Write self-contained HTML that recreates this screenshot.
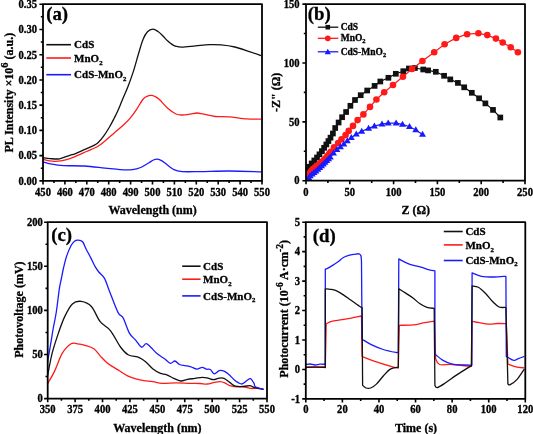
<!DOCTYPE html><html><head><meta charset="utf-8"><style>html,body{margin:0;padding:0;background:#fff;overflow:hidden}svg{display:block;will-change:transform}text{stroke:#000;stroke-width:0.3px}</style></head><body>
<svg width="533" height="434" viewBox="0 0 533 434" font-family="Liberation Serif" font-weight="bold">
<rect width="533" height="434" fill="#fff"/>
<path d="M43.00,161.90 C44.50,162.28 48.57,163.58 52.00,164.20 C55.43,164.82 58.22,165.30 63.60,165.60 C68.98,165.90 77.40,165.58 84.30,166.00 C91.20,166.42 99.05,167.50 105.00,168.10 C110.95,168.70 115.43,169.35 120.00,169.60 C124.57,169.85 128.95,169.95 132.40,169.60 C135.85,169.25 137.93,168.65 140.70,167.50 C143.47,166.35 146.87,163.95 149.00,162.70 C151.13,161.45 152.12,160.58 153.50,160.00 C154.88,159.42 156.13,159.17 157.30,159.20 C158.47,159.23 159.28,159.62 160.50,160.20 C161.72,160.78 162.37,161.13 164.60,162.70 C166.83,164.27 170.97,168.12 173.90,169.60 C176.83,171.08 177.85,171.27 182.20,171.60 C186.55,171.93 192.17,171.70 200.00,171.60 C207.83,171.50 219.03,170.97 229.20,171.00 C239.37,171.03 255.70,171.67 261.00,171.80" fill="none" stroke="#1a1aff" stroke-width="1.30" stroke-linejoin="round"/>
<path d="M43.00,159.40 C44.00,159.63 46.93,160.48 49.00,160.80 C51.07,161.12 52.62,161.45 55.40,161.30 C58.18,161.15 62.43,160.68 65.70,159.90 C68.97,159.12 71.53,158.00 75.00,156.60 C78.47,155.20 82.67,153.22 86.50,151.50 C90.33,149.78 94.93,148.03 98.00,146.30 C101.07,144.57 102.20,143.32 104.90,141.10 C107.60,138.88 111.12,135.68 114.20,133.00 C117.28,130.32 120.77,127.45 123.40,125.00 C126.03,122.55 127.80,120.92 130.00,118.30 C132.20,115.68 134.47,112.43 136.60,109.30 C138.73,106.17 141.07,101.67 142.80,99.50 C144.53,97.33 145.62,96.98 147.00,96.30 C148.38,95.62 149.77,95.37 151.10,95.40 C152.43,95.43 153.62,95.82 155.00,96.50 C156.38,97.18 157.28,97.55 159.40,99.50 C161.52,101.45 164.93,105.78 167.70,108.20 C170.47,110.62 173.58,112.87 176.00,114.00 C178.42,115.13 179.87,114.97 182.20,115.00 C184.53,115.03 187.55,114.53 190.00,114.20 C192.45,113.87 194.62,113.00 196.90,113.00 C199.18,113.00 200.60,113.62 203.70,114.20 C206.80,114.78 211.25,116.05 215.50,116.50 C219.75,116.95 223.98,116.50 229.20,116.90 C234.42,117.30 241.50,118.53 246.80,118.90 C252.10,119.27 258.63,119.07 261.00,119.10" fill="none" stroke="#ff1a1a" stroke-width="1.30" stroke-linejoin="round"/>
<path d="M43.00,157.80 C44.17,157.93 47.25,158.43 50.00,158.60 C52.75,158.77 56.20,159.35 59.50,158.80 C62.80,158.25 67.22,156.13 69.80,155.30 C72.38,154.47 72.60,154.73 75.00,153.80 C77.40,152.87 81.13,151.05 84.20,149.70 C87.27,148.35 91.10,146.85 93.40,145.70 C95.70,144.55 96.27,144.43 98.00,142.80 C99.73,141.17 101.88,138.53 103.80,135.90 C105.72,133.27 107.77,129.95 109.50,127.00 C111.23,124.05 112.85,120.82 114.20,118.20 C115.55,115.58 116.25,114.33 117.60,111.30 C118.95,108.27 120.57,104.15 122.30,100.00 C124.03,95.85 126.17,91.13 128.00,86.40 C129.83,81.67 131.58,76.92 133.30,71.60 C135.02,66.28 136.68,59.85 138.30,54.50 C139.92,49.15 141.47,43.28 143.00,39.50 C144.53,35.72 145.87,33.52 147.50,31.80 C149.13,30.08 151.05,29.25 152.80,29.20 C154.55,29.15 156.30,30.37 158.00,31.50 C159.70,32.63 161.42,34.45 163.00,36.00 C164.58,37.55 166.00,39.40 167.50,40.80 C169.00,42.20 170.58,43.48 172.00,44.40 C173.42,45.32 174.35,45.85 176.00,46.30 C177.65,46.75 178.62,47.17 181.90,47.10 C185.18,47.03 191.12,46.30 195.70,45.90 C200.28,45.50 205.17,44.87 209.40,44.70 C213.63,44.53 216.87,44.52 221.10,44.90 C225.33,45.28 230.23,45.93 234.80,47.00 C239.37,48.07 244.13,49.87 248.50,51.30 C252.87,52.73 258.92,54.88 261.00,55.60" fill="none" stroke="#111" stroke-width="1.30" stroke-linejoin="round"/>
<rect x="43.00" y="4.20" width="219.00" height="176.70" fill="none" stroke="#000" stroke-width="1.80" stroke-linejoin="round"/>
<path d="M43.00,180.90 V184.50 M53.95,180.90 V183.10 M64.90,180.90 V184.50 M75.85,180.90 V183.10 M86.80,180.90 V184.50 M97.75,180.90 V183.10 M108.70,180.90 V184.50 M119.65,180.90 V183.10 M130.60,180.90 V184.50 M141.55,180.90 V183.10 M152.50,180.90 V184.50 M163.45,180.90 V183.10 M174.40,180.90 V184.50 M185.35,180.90 V183.10 M196.30,180.90 V184.50 M207.25,180.90 V183.10 M218.20,180.90 V184.50 M229.15,180.90 V183.10 M240.10,180.90 V184.50 M251.05,180.90 V183.10 M262.00,180.90 V184.50 " stroke="#000" stroke-width="1.6"/>
<path d="M43.00,180.90 H39.40 M43.00,168.28 H40.80 M43.00,155.66 H39.40 M43.00,143.04 H40.80 M43.00,130.41 H39.40 M43.00,117.79 H40.80 M43.00,105.17 H39.40 M43.00,92.55 H40.80 M43.00,79.93 H39.40 M43.00,67.31 H40.80 M43.00,54.69 H39.40 M43.00,42.06 H40.80 M43.00,29.44 H39.40 M43.00,16.82 H40.80 M43.00,4.20 H39.40 " stroke="#000" stroke-width="1.6"/>
<text transform="translate(43.00,195.64) scale(1,1.17)" font-size="10.60" text-anchor="middle">450</text>
<text transform="translate(64.90,195.64) scale(1,1.17)" font-size="10.60" text-anchor="middle">460</text>
<text transform="translate(86.80,195.64) scale(1,1.17)" font-size="10.60" text-anchor="middle">470</text>
<text transform="translate(108.70,195.64) scale(1,1.17)" font-size="10.60" text-anchor="middle">480</text>
<text transform="translate(130.60,195.64) scale(1,1.17)" font-size="10.60" text-anchor="middle">490</text>
<text transform="translate(152.50,195.64) scale(1,1.17)" font-size="10.60" text-anchor="middle">500</text>
<text transform="translate(174.40,195.64) scale(1,1.17)" font-size="10.60" text-anchor="middle">510</text>
<text transform="translate(196.30,195.64) scale(1,1.17)" font-size="10.60" text-anchor="middle">520</text>
<text transform="translate(218.20,195.64) scale(1,1.17)" font-size="10.60" text-anchor="middle">530</text>
<text transform="translate(240.10,195.64) scale(1,1.17)" font-size="10.60" text-anchor="middle">540</text>
<text transform="translate(262.00,195.64) scale(1,1.17)" font-size="10.60" text-anchor="middle">550</text>
<text transform="translate(37.00,184.74) scale(1,1.17)" font-size="10.60" text-anchor="end">0.00</text>
<text transform="translate(37.00,159.49) scale(1,1.17)" font-size="10.60" text-anchor="end">0.05</text>
<text transform="translate(37.00,134.25) scale(1,1.17)" font-size="10.60" text-anchor="end">0.10</text>
<text transform="translate(37.00,109.01) scale(1,1.17)" font-size="10.60" text-anchor="end">0.15</text>
<text transform="translate(37.00,83.77) scale(1,1.17)" font-size="10.60" text-anchor="end">0.20</text>
<text transform="translate(37.00,58.52) scale(1,1.17)" font-size="10.60" text-anchor="end">0.25</text>
<text transform="translate(37.00,33.28) scale(1,1.17)" font-size="10.60" text-anchor="end">0.30</text>
<text transform="translate(37.00,8.04) scale(1,1.17)" font-size="10.60" text-anchor="end">0.35</text>
<text x="152.60" y="213.50" font-size="12.00" text-anchor="middle" >Wavelength (nm)</text>
<text transform="translate(12.9,92.7) rotate(-90)" font-size="12" text-anchor="middle">PL Intensity ×10<tspan font-size="10.5" dy="-5">6</tspan><tspan dy="5"> (a.u.)</tspan></text>
<text x="46.20" y="19.60" font-size="18.80" text-anchor="start" >(a)</text>
<path d="M46.3,44.70 H71" stroke="#111" stroke-width="1.6"/>
<path d="M46.3,58.00 H71" stroke="#ff1a1a" stroke-width="1.6"/>
<path d="M46.3,74.70 H71" stroke="#1a1aff" stroke-width="1.6"/>
<text x="74.10" y="48.40" font-size="11.00" text-anchor="start" >CdS</text>
<text x="74.10" y="62.20" font-size="11.00" text-anchor="start" >MnO<tspan font-size="6.8" dy="2.6">2</tspan></text>
<text x="74.10" y="78.40" font-size="11.00" text-anchor="start" >CdS-MnO<tspan font-size="6.8" dy="2.6">2</tspan></text>
<clipPath id="cb"><rect x="306" y="4" width="219" height="176.7"/></clipPath><g clip-path="url(#cb)">
<path d="M306.40,174.00 L307.50,169.50 L312.00,163.00 L317.00,157.50 L322.00,151.00 L326.00,145.00 L330.60,137.50 L332.90,133.50 L335.20,128.00 L338.60,122.50 L342.10,117.20 L346.10,112.00 L350.40,105.80 L355.00,100.00 L360.70,95.20 L367.20,90.50 L374.60,85.90 L380.30,81.50 L388.40,77.80 L395.80,73.80 L403.30,71.20 L408.90,68.50 L414.90,68.00 L423.20,69.50 L428.10,70.40 L435.80,71.80 L444.10,75.80 L450.30,79.40 L457.90,82.90 L464.20,87.30 L471.80,92.80 L479.10,98.30 L485.40,103.40 L493.00,109.90 L500.30,117.50" fill="none" stroke="#111" stroke-width="1.2"/>
<g fill="#111"><rect x="303.55" y="171.15" width="5.70" height="5.70"/><rect x="304.50" y="167.26" width="5.70" height="5.70"/><rect x="306.57" y="163.88" width="5.70" height="5.70"/><rect x="308.84" y="160.59" width="5.70" height="5.70"/><rect x="311.48" y="157.59" width="5.70" height="5.70"/><rect x="314.17" y="154.63" width="5.70" height="5.70"/><rect x="316.61" y="151.46" width="5.70" height="5.70"/><rect x="319.05" y="148.29" width="5.70" height="5.70"/><rect x="321.27" y="144.96" width="5.70" height="5.70"/><rect x="323.47" y="141.62" width="5.70" height="5.70"/><rect x="325.56" y="138.21" width="5.70" height="5.70"/><rect x="327.66" y="134.80" width="5.70" height="5.70"/><rect x="330.05" y="130.65" width="5.70" height="5.70"/><rect x="332.35" y="125.15" width="5.70" height="5.70"/><rect x="335.75" y="119.65" width="5.70" height="5.70"/><rect x="339.25" y="114.35" width="5.70" height="5.70"/><rect x="343.25" y="109.15" width="5.70" height="5.70"/><rect x="347.55" y="102.95" width="5.70" height="5.70"/><rect x="352.15" y="97.15" width="5.70" height="5.70"/><rect x="357.85" y="92.35" width="5.70" height="5.70"/><rect x="364.35" y="87.65" width="5.70" height="5.70"/><rect x="371.75" y="83.05" width="5.70" height="5.70"/><rect x="377.45" y="78.65" width="5.70" height="5.70"/><rect x="385.55" y="74.95" width="5.70" height="5.70"/><rect x="392.95" y="70.95" width="5.70" height="5.70"/><rect x="400.45" y="68.35" width="5.70" height="5.70"/><rect x="406.05" y="65.65" width="5.70" height="5.70"/><rect x="412.05" y="65.15" width="5.70" height="5.70"/><rect x="420.35" y="66.65" width="5.70" height="5.70"/><rect x="425.25" y="67.55" width="5.70" height="5.70"/><rect x="432.95" y="68.95" width="5.70" height="5.70"/><rect x="441.25" y="72.95" width="5.70" height="5.70"/><rect x="447.45" y="76.55" width="5.70" height="5.70"/><rect x="455.05" y="80.05" width="5.70" height="5.70"/><rect x="461.35" y="84.45" width="5.70" height="5.70"/><rect x="468.95" y="89.95" width="5.70" height="5.70"/><rect x="476.25" y="95.45" width="5.70" height="5.70"/><rect x="482.55" y="100.55" width="5.70" height="5.70"/><rect x="490.15" y="107.05" width="5.70" height="5.70"/><rect x="497.45" y="114.65" width="5.70" height="5.70"/></g>
<path d="M306.80,180.00 L307.80,176.00 L312.10,170.00 L317.00,166.00 L322.30,161.80 L327.00,157.00 L331.20,151.50 L334.00,147.20 L338.10,143.00 L341.50,139.20 L345.60,135.10 L348.70,130.90 L353.00,125.90 L357.60,120.10 L363.40,114.40 L370.00,106.90 L376.40,99.50 L384.20,92.20 L393.00,85.00 L402.90,76.80 L412.10,68.90 L422.40,61.00 L434.20,52.30 L444.60,44.20 L456.20,37.90 L467.10,34.20 L478.40,33.30 L487.30,35.10 L495.90,38.60 L502.70,42.50 L510.70,47.20 L517.90,52.30" fill="none" stroke="#ff1a1a" stroke-width="1.2"/>
<g fill="#ff1a1a"><circle cx="306.80" cy="180.00" r="3.50"/><circle cx="307.41" cy="177.57" r="3.50"/><circle cx="308.31" cy="175.29" r="3.50"/><circle cx="309.77" cy="173.26" r="3.50"/><circle cx="311.22" cy="171.22" r="3.50"/><circle cx="312.87" cy="169.37" r="3.50"/><circle cx="314.81" cy="167.79" r="3.50"/><circle cx="316.74" cy="166.21" r="3.50"/><circle cx="318.70" cy="164.65" r="3.50"/><circle cx="320.66" cy="163.10" r="3.50"/><circle cx="322.59" cy="161.51" r="3.50"/><circle cx="324.33" cy="159.72" r="3.50"/><circle cx="326.08" cy="157.94" r="3.50"/><circle cx="327.72" cy="156.05" r="3.50"/><circle cx="329.24" cy="154.07" r="3.50"/><circle cx="330.76" cy="152.08" r="3.50"/><circle cx="334.00" cy="147.20" r="3.30"/><circle cx="338.10" cy="143.00" r="3.30"/><circle cx="341.50" cy="139.20" r="3.30"/><circle cx="345.60" cy="135.10" r="3.30"/><circle cx="348.70" cy="130.90" r="3.30"/><circle cx="353.00" cy="125.90" r="3.30"/><circle cx="357.60" cy="120.10" r="3.30"/><circle cx="363.40" cy="114.40" r="3.30"/><circle cx="370.00" cy="106.90" r="3.30"/><circle cx="376.40" cy="99.50" r="3.30"/><circle cx="384.20" cy="92.20" r="3.30"/><circle cx="393.00" cy="85.00" r="3.30"/><circle cx="402.90" cy="76.80" r="3.30"/><circle cx="412.10" cy="68.90" r="3.30"/><circle cx="422.40" cy="61.00" r="3.30"/><circle cx="434.20" cy="52.30" r="3.30"/><circle cx="444.60" cy="44.20" r="3.30"/><circle cx="456.20" cy="37.90" r="3.30"/><circle cx="467.10" cy="34.20" r="3.30"/><circle cx="478.40" cy="33.30" r="3.30"/><circle cx="487.30" cy="35.10" r="3.30"/><circle cx="495.90" cy="38.60" r="3.30"/><circle cx="502.70" cy="42.50" r="3.30"/><circle cx="510.70" cy="47.20" r="3.30"/><circle cx="517.90" cy="52.30" r="3.30"/></g>
<path d="M307.50,180.00 L310.00,176.00 L313.50,173.00 L317.20,170.00 L322.00,165.50 L327.40,160.00 L331.20,156.10 L333.50,153.20 L336.90,149.70 L340.40,146.90 L343.80,144.00 L347.30,140.90 L351.30,137.60 L356.30,134.20 L361.70,131.30 L368.60,128.40 L374.40,126.10 L382.00,124.10 L388.20,123.10 L396.10,123.10 L402.50,124.30 L409.50,126.70 L415.80,129.90 L422.50,134.40" fill="none" stroke="#1a1aff" stroke-width="1.2"/>
<g fill="#1a1aff"><path d="M307.50,176.40 L311.00,182.40 L304.00,182.40 Z"/><path d="M308.82,174.28 L312.32,180.28 L305.32,180.28 Z"/><path d="M310.21,172.22 L313.71,178.22 L306.71,178.22 Z"/><path d="M312.11,170.59 L315.61,176.59 L308.61,176.59 Z"/><path d="M314.02,168.98 L317.52,174.98 L310.52,174.98 Z"/><path d="M315.96,167.40 L319.46,173.40 L312.46,173.40 Z"/><path d="M317.86,165.78 L321.36,171.78 L314.36,171.78 Z"/><path d="M319.69,164.07 L323.19,170.07 L316.19,170.07 Z"/><path d="M321.51,162.36 L325.01,168.36 L318.01,168.36 Z"/><path d="M323.28,160.59 L326.78,166.59 L319.78,166.59 Z"/><path d="M325.03,158.81 L328.53,164.81 L321.53,164.81 Z"/><path d="M326.79,157.03 L330.29,163.03 L323.29,163.03 Z"/><path d="M328.53,155.24 L332.03,161.24 L325.03,161.24 Z"/><path d="M330.28,153.45 L333.78,159.45 L326.78,159.45 Z"/><path d="M333.50,149.60 L337.00,155.60 L330.00,155.60 Z"/><path d="M336.90,146.10 L340.40,152.10 L333.40,152.10 Z"/><path d="M340.40,143.30 L343.90,149.30 L336.90,149.30 Z"/><path d="M343.80,140.40 L347.30,146.40 L340.30,146.40 Z"/><path d="M347.30,137.30 L350.80,143.30 L343.80,143.30 Z"/><path d="M351.30,134.00 L354.80,140.00 L347.80,140.00 Z"/><path d="M356.30,130.60 L359.80,136.60 L352.80,136.60 Z"/><path d="M361.70,127.70 L365.20,133.70 L358.20,133.70 Z"/><path d="M368.60,124.80 L372.10,130.80 L365.10,130.80 Z"/><path d="M374.40,122.50 L377.90,128.50 L370.90,128.50 Z"/><path d="M382.00,120.50 L385.50,126.50 L378.50,126.50 Z"/><path d="M388.20,119.50 L391.70,125.50 L384.70,125.50 Z"/><path d="M396.10,119.50 L399.60,125.50 L392.60,125.50 Z"/><path d="M402.50,120.70 L406.00,126.70 L399.00,126.70 Z"/><path d="M409.50,123.10 L413.00,129.10 L406.00,129.10 Z"/><path d="M415.80,126.30 L419.30,132.30 L412.30,132.30 Z"/><path d="M422.50,130.80 L426.00,136.80 L419.00,136.80 Z"/></g>
</g>
<rect x="306.00" y="4.10" width="219.00" height="176.60" fill="none" stroke="#000" stroke-width="1.80" stroke-linejoin="round"/>
<path d="M306.00,180.70 V184.30 M327.90,180.70 V182.90 M349.80,180.70 V184.30 M371.70,180.70 V182.90 M393.60,180.70 V184.30 M415.50,180.70 V182.90 M437.40,180.70 V184.30 M459.30,180.70 V182.90 M481.20,180.70 V184.30 M503.10,180.70 V182.90 M525.00,180.70 V184.30 " stroke="#000" stroke-width="1.6"/>
<path d="M306.00,180.70 H302.40 M306.00,151.27 H303.80 M306.00,121.83 H302.40 M306.00,92.40 H303.80 M306.00,62.97 H302.40 M306.00,33.53 H303.80 M306.00,4.10 H302.40 " stroke="#000" stroke-width="1.6"/>
<text transform="translate(306.00,195.64) scale(1,1.17)" font-size="10.60" text-anchor="middle">0</text>
<text transform="translate(349.80,195.64) scale(1,1.17)" font-size="10.60" text-anchor="middle">50</text>
<text transform="translate(393.60,195.64) scale(1,1.17)" font-size="10.60" text-anchor="middle">100</text>
<text transform="translate(437.40,195.64) scale(1,1.17)" font-size="10.60" text-anchor="middle">150</text>
<text transform="translate(481.20,195.64) scale(1,1.17)" font-size="10.60" text-anchor="middle">200</text>
<text transform="translate(525.00,195.64) scale(1,1.17)" font-size="10.60" text-anchor="middle">250</text>
<text transform="translate(299.60,184.44) scale(1,1.17)" font-size="10.60" text-anchor="end">0</text>
<text transform="translate(299.60,125.57) scale(1,1.17)" font-size="10.60" text-anchor="end">50</text>
<text transform="translate(299.60,66.70) scale(1,1.17)" font-size="10.60" text-anchor="end">100</text>
<text transform="translate(299.60,7.84) scale(1,1.17)" font-size="10.60" text-anchor="end">150</text>
<text x="415.70" y="213.80" font-size="12.00" text-anchor="middle" >Z (Ω)</text>
<text transform="translate(280.4,92.3) rotate(-90)" font-size="12" text-anchor="middle">-Z" (Ω)</text>
<text x="307.80" y="20.20" font-size="18.80" text-anchor="start" >(b)</text>
<path d="M317.8,27.20 H338.3" stroke="#111" stroke-width="1.3"/>
<g fill="#111"><rect x="325.50" y="24.90" width="4.60" height="4.60"/></g>
<path d="M317.8,38.30 H338.3" stroke="#ff1a1a" stroke-width="1.3"/>
<g fill="#ff1a1a"><circle cx="327.80" cy="38.30" r="2.90"/></g>
<path d="M317.8,51.80 H338.3" stroke="#1a1aff" stroke-width="1.3"/>
<g fill="#1a1aff"><path d="M327.80,48.86 L330.90,54.26 L324.70,54.26 Z"/></g>
<text x="340.70" y="29.80" font-size="9.50" text-anchor="start" >CdS</text>
<text x="340.70" y="41.00" font-size="9.50" text-anchor="start" >MnO<tspan font-size="6.5" dy="2">2</tspan></text>
<text x="340.70" y="54.50" font-size="9.50" text-anchor="start" >CdS-MnO<tspan font-size="6.5" dy="2">2</tspan></text>
<path d="M47.50,383.80 C48.68,381.68 52.15,376.17 54.60,371.10 C57.05,366.03 59.45,357.95 62.20,353.40 C64.95,348.85 68.57,345.40 71.10,343.80 C73.63,342.20 75.08,343.55 77.40,343.80 C79.72,344.05 82.25,344.47 85.00,345.30 C87.75,346.13 91.37,347.03 93.90,348.80 C96.43,350.57 97.87,353.45 100.20,355.90 C102.53,358.35 104.93,361.17 107.90,363.50 C110.87,365.83 114.63,367.78 118.00,369.90 C121.37,372.02 124.93,374.65 128.10,376.20 C131.27,377.75 134.38,378.47 137.00,379.20 C139.62,379.93 141.13,380.18 143.80,380.60 C146.47,381.02 149.93,381.23 153.00,381.70 C156.07,382.17 158.35,383.20 162.20,383.40 C166.05,383.60 171.48,382.90 176.10,382.90 C180.72,382.90 185.92,383.30 189.90,383.40 C193.88,383.50 197.13,383.40 200.00,383.50 C202.87,383.60 204.70,384.18 207.10,384.00 C209.50,383.82 212.25,382.80 214.40,382.40 C216.55,382.00 218.27,381.52 220.00,381.60 C221.73,381.68 223.18,382.23 224.80,382.90 C226.42,383.57 227.68,384.95 229.70,385.60 C231.72,386.25 234.62,386.60 236.90,386.80 C239.18,387.00 241.12,386.53 243.40,386.80 C245.68,387.07 248.45,388.13 250.60,388.40 C252.75,388.67 254.15,388.23 256.30,388.40 C258.45,388.57 262.30,389.23 263.50,389.40" fill="none" stroke="#ff1a1a" stroke-width="1.30" stroke-linejoin="round"/>
<path d="M47.50,376.20 C48.27,372.40 50.28,360.58 52.10,353.40 C53.92,346.22 56.30,339.23 58.40,333.10 C60.50,326.97 62.37,321.47 64.70,316.60 C67.03,311.73 69.65,306.43 72.40,303.90 C75.15,301.37 78.03,300.97 81.20,301.40 C84.37,301.83 88.23,303.12 91.40,306.50 C94.57,309.88 97.03,317.68 100.20,321.70 C103.37,325.72 107.02,326.38 110.40,330.60 C113.78,334.82 117.55,342.98 120.50,347.00 C123.45,351.02 124.98,352.93 128.10,354.70 C131.22,356.47 136.20,356.35 139.20,357.60 C142.20,358.85 143.80,360.28 146.10,362.20 C148.40,364.12 150.70,367.27 153.00,369.10 C155.30,370.93 157.60,372.25 159.90,373.20 C162.20,374.15 164.50,373.95 166.80,374.80 C169.10,375.65 171.38,377.27 173.70,378.30 C176.02,379.33 178.38,380.82 180.70,381.00 C183.02,381.18 185.22,379.83 187.60,379.40 C189.98,378.97 192.55,378.75 195.00,378.40 C197.45,378.05 200.15,377.35 202.30,377.30 C204.45,377.25 206.03,377.70 207.90,378.10 C209.77,378.50 211.62,379.70 213.50,379.70 C215.38,379.70 217.45,378.32 219.20,378.10 C220.95,377.88 222.25,377.68 224.00,378.40 C225.75,379.12 227.82,381.12 229.70,382.40 C231.58,383.68 233.02,385.42 235.30,386.10 C237.58,386.78 240.98,386.58 243.40,386.50 C245.82,386.42 248.05,385.47 249.80,385.60 C251.55,385.73 251.62,386.67 253.90,387.30 C256.18,387.93 261.90,389.05 263.50,389.40" fill="none" stroke="#111" stroke-width="1.30" stroke-linejoin="round"/>
<path d="M47.50,362.00 C48.00,359.17 49.53,350.67 50.50,345.00 C51.47,339.33 52.33,333.50 53.30,328.00 C54.27,322.50 55.28,318.60 56.30,312.00 C57.32,305.40 58.57,293.90 59.40,288.40 C60.23,282.90 60.62,282.40 61.30,279.00 C61.98,275.60 62.63,271.75 63.50,268.00 C64.37,264.25 65.23,260.25 66.50,256.50 C67.77,252.75 69.77,248.05 71.10,245.50 C72.43,242.95 73.35,242.10 74.50,241.20 C75.65,240.30 76.65,240.00 78.00,240.10 C79.35,240.20 81.25,240.32 82.60,241.80 C83.95,243.28 84.75,246.37 86.10,249.00 C87.45,251.63 89.17,254.62 90.70,257.60 C92.23,260.58 93.95,264.50 95.30,266.90 C96.65,269.30 97.27,270.08 98.80,272.00 C100.33,273.92 102.77,275.33 104.50,278.40 C106.23,281.47 106.95,284.73 109.20,290.40 C111.45,296.07 115.68,307.82 118.00,312.40 C120.32,316.98 121.20,314.45 123.10,317.90 C125.00,321.35 127.28,329.37 129.40,333.10 C131.52,336.83 133.78,337.95 135.80,340.30 C137.82,342.65 139.78,346.63 141.50,347.20 C143.22,347.77 144.57,343.70 146.10,343.70 C147.63,343.70 148.78,345.47 150.70,347.20 C152.62,348.93 155.30,352.18 157.60,354.10 C159.90,356.02 162.38,357.17 164.50,358.70 C166.62,360.23 168.57,362.92 170.30,363.30 C172.03,363.68 173.37,360.80 174.90,361.00 C176.43,361.20 177.77,363.73 179.50,364.50 C181.23,365.27 183.38,365.22 185.30,365.60 C187.22,365.98 189.08,366.22 191.00,366.80 C192.92,367.38 194.92,369.00 196.80,369.10 C198.68,369.20 200.72,367.38 202.30,367.40 C203.88,367.42 204.97,368.85 206.30,369.20 C207.63,369.55 208.95,368.72 210.30,369.50 C211.65,370.28 212.92,373.72 214.40,373.90 C215.88,374.08 217.60,371.07 219.20,370.60 C220.80,370.13 222.38,370.47 224.00,371.10 C225.62,371.73 227.02,372.78 228.90,374.40 C230.78,376.02 233.15,379.20 235.30,380.80 C237.45,382.40 239.92,384.00 241.80,384.00 C243.68,384.00 245.13,381.68 246.60,380.80 C248.07,379.92 249.38,378.30 250.60,378.70 C251.82,379.10 253.08,381.85 253.90,383.20 C254.72,384.55 253.90,385.77 255.50,386.80 C257.10,387.83 262.17,388.97 263.50,389.40" fill="none" stroke="#1a1aff" stroke-width="1.30" stroke-linejoin="round"/>
<rect x="47.70" y="222.20" width="219.30" height="176.40" fill="none" stroke="#000" stroke-width="1.80" stroke-linejoin="round"/>
<path d="M47.70,398.60 V402.20 M61.41,398.60 V400.80 M75.11,398.60 V402.20 M88.82,398.60 V400.80 M102.53,398.60 V402.20 M116.23,398.60 V400.80 M129.94,398.60 V402.20 M143.64,398.60 V400.80 M157.35,398.60 V402.20 M171.06,398.60 V400.80 M184.76,398.60 V402.20 M198.47,398.60 V400.80 M212.18,398.60 V402.20 M225.88,398.60 V400.80 M239.59,398.60 V402.20 M253.29,398.60 V400.80 M267.00,398.60 V402.20 " stroke="#000" stroke-width="1.6"/>
<path d="M47.70,398.60 H44.10 M47.70,376.55 H45.50 M47.70,354.50 H44.10 M47.70,332.45 H45.50 M47.70,310.40 H44.10 M47.70,288.35 H45.50 M47.70,266.30 H44.10 M47.70,244.25 H45.50 M47.70,222.20 H44.10 " stroke="#000" stroke-width="1.6"/>
<text transform="translate(47.70,413.44) scale(1,1.17)" font-size="10.60" text-anchor="middle">350</text>
<text transform="translate(75.11,413.44) scale(1,1.17)" font-size="10.60" text-anchor="middle">375</text>
<text transform="translate(102.53,413.44) scale(1,1.17)" font-size="10.60" text-anchor="middle">400</text>
<text transform="translate(129.94,413.44) scale(1,1.17)" font-size="10.60" text-anchor="middle">425</text>
<text transform="translate(157.35,413.44) scale(1,1.17)" font-size="10.60" text-anchor="middle">450</text>
<text transform="translate(184.76,413.44) scale(1,1.17)" font-size="10.60" text-anchor="middle">475</text>
<text transform="translate(212.18,413.44) scale(1,1.17)" font-size="10.60" text-anchor="middle">500</text>
<text transform="translate(239.59,413.44) scale(1,1.17)" font-size="10.60" text-anchor="middle">525</text>
<text transform="translate(267.00,413.44) scale(1,1.17)" font-size="10.60" text-anchor="middle">550</text>
<text transform="translate(42.80,402.24) scale(1,1.17)" font-size="10.60" text-anchor="end">0</text>
<text transform="translate(42.80,358.14) scale(1,1.17)" font-size="10.60" text-anchor="end">50</text>
<text transform="translate(42.80,314.04) scale(1,1.17)" font-size="10.60" text-anchor="end">100</text>
<text transform="translate(42.80,269.94) scale(1,1.17)" font-size="10.60" text-anchor="end">150</text>
<text transform="translate(42.80,225.84) scale(1,1.17)" font-size="10.60" text-anchor="end">200</text>
<text x="157.40" y="431.50" font-size="12.00" text-anchor="middle" >Wavelength (nm)</text>
<text transform="translate(22.6,309.6) rotate(-90)" font-size="12" text-anchor="middle">Photovoltage (mV)</text>
<text x="51.20" y="240.60" font-size="18.80" text-anchor="start" >(c)</text>
<path d="M182.2,266.20 H200.6" stroke="#111" stroke-width="1.6"/>
<path d="M182.2,279.20 H200.6" stroke="#ff1a1a" stroke-width="1.6"/>
<path d="M182.2,295.90 H200.6" stroke="#1a1aff" stroke-width="1.6"/>
<text x="203.10" y="269.80" font-size="11.00" text-anchor="start" >CdS</text>
<text x="203.10" y="283.30" font-size="11.00" text-anchor="start" >MnO<tspan font-size="6.8" dy="2.6">2</tspan></text>
<text x="203.10" y="299.50" font-size="11.00" text-anchor="start" >CdS-MnO<tspan font-size="6.8" dy="2.6">2</tspan></text>
<path d="M305.80,366.80 C307.33,366.83 311.75,367.00 315.00,367.00 C318.25,367.00 323.58,366.83 325.30,366.80 L326.20,323.70 C327.27,323.28 329.22,322.00 332.60,321.20 C335.98,320.40 341.68,319.77 346.50,318.90 C351.32,318.03 359.00,316.48 361.50,316.00 L362.10,356.50 C364.10,357.27 369.02,359.38 374.10,361.10 C379.18,362.82 388.57,365.65 392.60,366.80 C396.63,367.95 397.35,367.80 398.30,368.00 L399.20,325.30 C401.50,325.23 408.77,325.35 413.00,324.90 C417.23,324.45 421.02,323.22 424.60,322.60 C428.18,321.98 432.85,321.43 434.50,321.20 L435.60,358.80 C436.25,359.75 436.73,363.55 439.50,364.50 C442.27,365.45 446.88,364.18 452.20,364.50 C457.52,364.82 468.20,366.08 471.40,366.40 L471.80,321.20 C473.02,321.43 476.35,322.10 479.10,322.60 C481.85,323.10 485.22,324.05 488.30,324.20 C491.38,324.35 494.60,323.58 497.60,323.50 C500.60,323.42 504.85,323.67 506.30,323.70 L507.90,364.00 C509.25,364.47 513.27,366.15 516.00,366.80 C518.73,367.45 522.92,367.72 524.30,367.90 " fill="none" stroke="#ff1a1a" stroke-width="1.3" stroke-linejoin="round"/>
<path d="M305.80,364.50 C306.50,364.42 308.47,363.92 310.00,364.00 C311.53,364.08 313.33,364.97 315.00,365.00 C316.67,365.03 318.28,364.32 320.00,364.20 C321.72,364.08 324.42,364.28 325.30,364.30 L325.30,269.20 C325.75,269.02 326.58,268.87 328.00,268.10 C329.42,267.33 332.07,265.68 333.80,264.60 C335.53,263.52 336.87,262.75 338.40,261.60 C339.93,260.45 341.27,258.73 343.00,257.70 C344.73,256.67 346.88,255.97 348.80,255.40 C350.72,254.83 352.78,254.57 354.50,254.30 C356.22,254.03 358.02,253.52 359.10,253.80 C360.18,254.08 360.60,254.58 361.00,256.00 C361.40,257.42 361.42,261.25 361.50,262.30 L362.10,339.20 C363.72,340.15 368.27,343.18 371.80,344.90 C375.33,346.62 379.27,348.23 383.30,349.50 C387.33,350.77 393.50,352.00 396.00,352.50 C398.50,353.00 397.92,352.50 398.30,352.50 L398.80,258.90 C399.63,259.35 401.82,260.65 403.80,261.60 C405.78,262.55 408.00,263.72 410.70,264.60 C413.40,265.48 416.92,266.02 420.00,266.90 C423.08,267.78 426.72,269.25 429.20,269.90 C431.68,270.55 433.95,270.65 434.90,270.80 L434.90,354.10 C436.25,355.15 440.12,358.73 443.00,360.40 C445.88,362.07 448.75,363.33 452.20,364.10 C455.65,364.87 460.43,364.82 463.70,365.00 C466.97,365.18 470.45,365.17 471.80,365.20 L472.10,272.80 C473.67,273.38 477.87,275.60 481.50,276.30 C485.13,277.00 489.83,277.00 493.90,277.00 C497.97,277.00 503.90,276.42 505.90,276.30 L506.30,356.40 C507.53,357.05 511.70,359.92 513.70,360.30 C515.70,360.68 516.53,359.35 518.30,358.70 C520.07,358.05 523.30,356.78 524.30,356.40 " fill="none" stroke="#1a1aff" stroke-width="1.3" stroke-linejoin="round"/>
<path d="M305.80,367.50 C307.33,367.45 311.75,367.20 315.00,367.20 C318.25,367.20 323.58,367.45 325.30,367.50 L325.30,288.80 C326.13,288.88 328.50,288.98 330.30,289.30 C332.10,289.62 333.98,289.82 336.10,290.70 C338.22,291.58 340.50,293.00 343.00,294.60 C345.50,296.20 348.22,298.27 351.10,300.30 C353.98,302.33 358.47,305.57 360.30,306.80 C362.13,308.03 361.80,307.55 362.10,307.70 L362.60,385.30 C363.17,385.75 364.65,387.55 366.00,388.00 C367.35,388.45 368.97,388.65 370.70,388.00 C372.43,387.35 374.30,386.10 376.40,384.10 C378.50,382.10 380.98,378.50 383.30,376.00 C385.62,373.50 387.80,370.57 390.30,369.10 C392.80,367.63 396.97,367.52 398.30,367.20 L398.80,288.80 C400.02,289.57 403.73,291.87 406.10,293.40 C408.47,294.93 410.68,296.27 413.00,298.00 C415.32,299.73 417.68,302.25 420.00,303.80 C422.32,305.35 424.53,306.53 426.90,307.30 C429.27,308.07 432.98,308.22 434.20,308.40 L434.90,385.30 C435.28,385.68 435.47,387.98 437.20,387.60 C438.93,387.22 442.03,385.12 445.30,383.00 C448.57,380.88 452.43,377.80 456.80,374.90 C461.17,372.00 469.05,367.15 471.50,365.60 L472.10,285.90 C473.15,286.13 476.15,286.03 478.40,287.30 C480.65,288.57 483.18,291.08 485.60,293.50 C488.02,295.92 490.65,299.55 492.90,301.80 C495.15,304.05 496.93,306.07 499.10,307.00 C501.27,307.93 504.77,307.33 505.90,307.40 L507.90,384.00 C508.28,384.12 508.67,385.47 510.20,384.70 C511.73,383.93 514.75,382.00 517.10,379.40 C519.45,376.80 523.10,370.82 524.30,369.10 " fill="none" stroke="#111" stroke-width="1.3" stroke-linejoin="round"/>
<rect x="305.80" y="222.20" width="219.50" height="176.70" fill="none" stroke="#000" stroke-width="1.80" stroke-linejoin="round"/>
<path d="M305.80,398.90 V402.50 M324.09,398.90 V401.10 M342.38,398.90 V402.50 M360.68,398.90 V401.10 M378.97,398.90 V402.50 M397.26,398.90 V401.10 M415.55,398.90 V402.50 M433.84,398.90 V401.10 M452.13,398.90 V402.50 M470.42,398.90 V401.10 M488.72,398.90 V402.50 M507.01,398.90 V401.10 M525.30,398.90 V402.50 " stroke="#000" stroke-width="1.6"/>
<path d="M305.80,398.90 H302.20 M305.80,384.17 H303.60 M305.80,369.45 H302.20 M305.80,354.72 H303.60 M305.80,340.00 H302.20 M305.80,325.27 H303.60 M305.80,310.55 H302.20 M305.80,295.82 H303.60 M305.80,281.10 H302.20 M305.80,266.38 H303.60 M305.80,251.65 H302.20 M305.80,236.92 H303.60 M305.80,222.20 H302.20 " stroke="#000" stroke-width="1.6"/>
<text transform="translate(305.80,413.44) scale(1,1.17)" font-size="10.60" text-anchor="middle">0</text>
<text transform="translate(342.38,413.44) scale(1,1.17)" font-size="10.60" text-anchor="middle">20</text>
<text transform="translate(378.97,413.44) scale(1,1.17)" font-size="10.60" text-anchor="middle">40</text>
<text transform="translate(415.55,413.44) scale(1,1.17)" font-size="10.60" text-anchor="middle">60</text>
<text transform="translate(452.13,413.44) scale(1,1.17)" font-size="10.60" text-anchor="middle">80</text>
<text transform="translate(488.72,413.44) scale(1,1.17)" font-size="10.60" text-anchor="middle">100</text>
<text transform="translate(525.30,413.44) scale(1,1.17)" font-size="10.60" text-anchor="middle">120</text>
<text transform="translate(300.00,402.64) scale(1,1.17)" font-size="10.60" text-anchor="end">-1</text>
<text transform="translate(300.00,373.19) scale(1,1.17)" font-size="10.60" text-anchor="end">0</text>
<text transform="translate(300.00,343.74) scale(1,1.17)" font-size="10.60" text-anchor="end">1</text>
<text transform="translate(300.00,314.29) scale(1,1.17)" font-size="10.60" text-anchor="end">2</text>
<text transform="translate(300.00,284.84) scale(1,1.17)" font-size="10.60" text-anchor="end">3</text>
<text transform="translate(300.00,255.39) scale(1,1.17)" font-size="10.60" text-anchor="end">4</text>
<text transform="translate(300.00,225.94) scale(1,1.17)" font-size="10.60" text-anchor="end">5</text>
<text x="416.00" y="431.80" font-size="12.00" text-anchor="middle" >Time (s)</text>
<text transform="translate(287.6,308.9) rotate(-90)" font-size="12" text-anchor="middle">Photocurrent (10<tspan font-size="9.5" dy="-4.5">-6</tspan><tspan dy="4.5"> A·cm</tspan><tspan font-size="9.5" dy="-4.5">-2</tspan><tspan dy="4.5">)</tspan></text>
<text x="312.80" y="242.40" font-size="18.80" text-anchor="start" >(d)</text>
<path d="M443.8,231.50 H462.7" stroke="#111" stroke-width="1.6"/>
<path d="M443.8,244.90 H462.7" stroke="#ff1a1a" stroke-width="1.6"/>
<path d="M443.8,260.50 H462.7" stroke="#1a1aff" stroke-width="1.6"/>
<text x="465.40" y="235.00" font-size="11.00" text-anchor="start" >CdS</text>
<text x="465.40" y="249.00" font-size="11.00" text-anchor="start" >MnO<tspan font-size="6.8" dy="2.6">2</tspan></text>
<text x="465.40" y="263.50" font-size="11.00" text-anchor="start" >CdS-MnO<tspan font-size="6.8" dy="2.6">2</tspan></text>
</svg></body></html>
